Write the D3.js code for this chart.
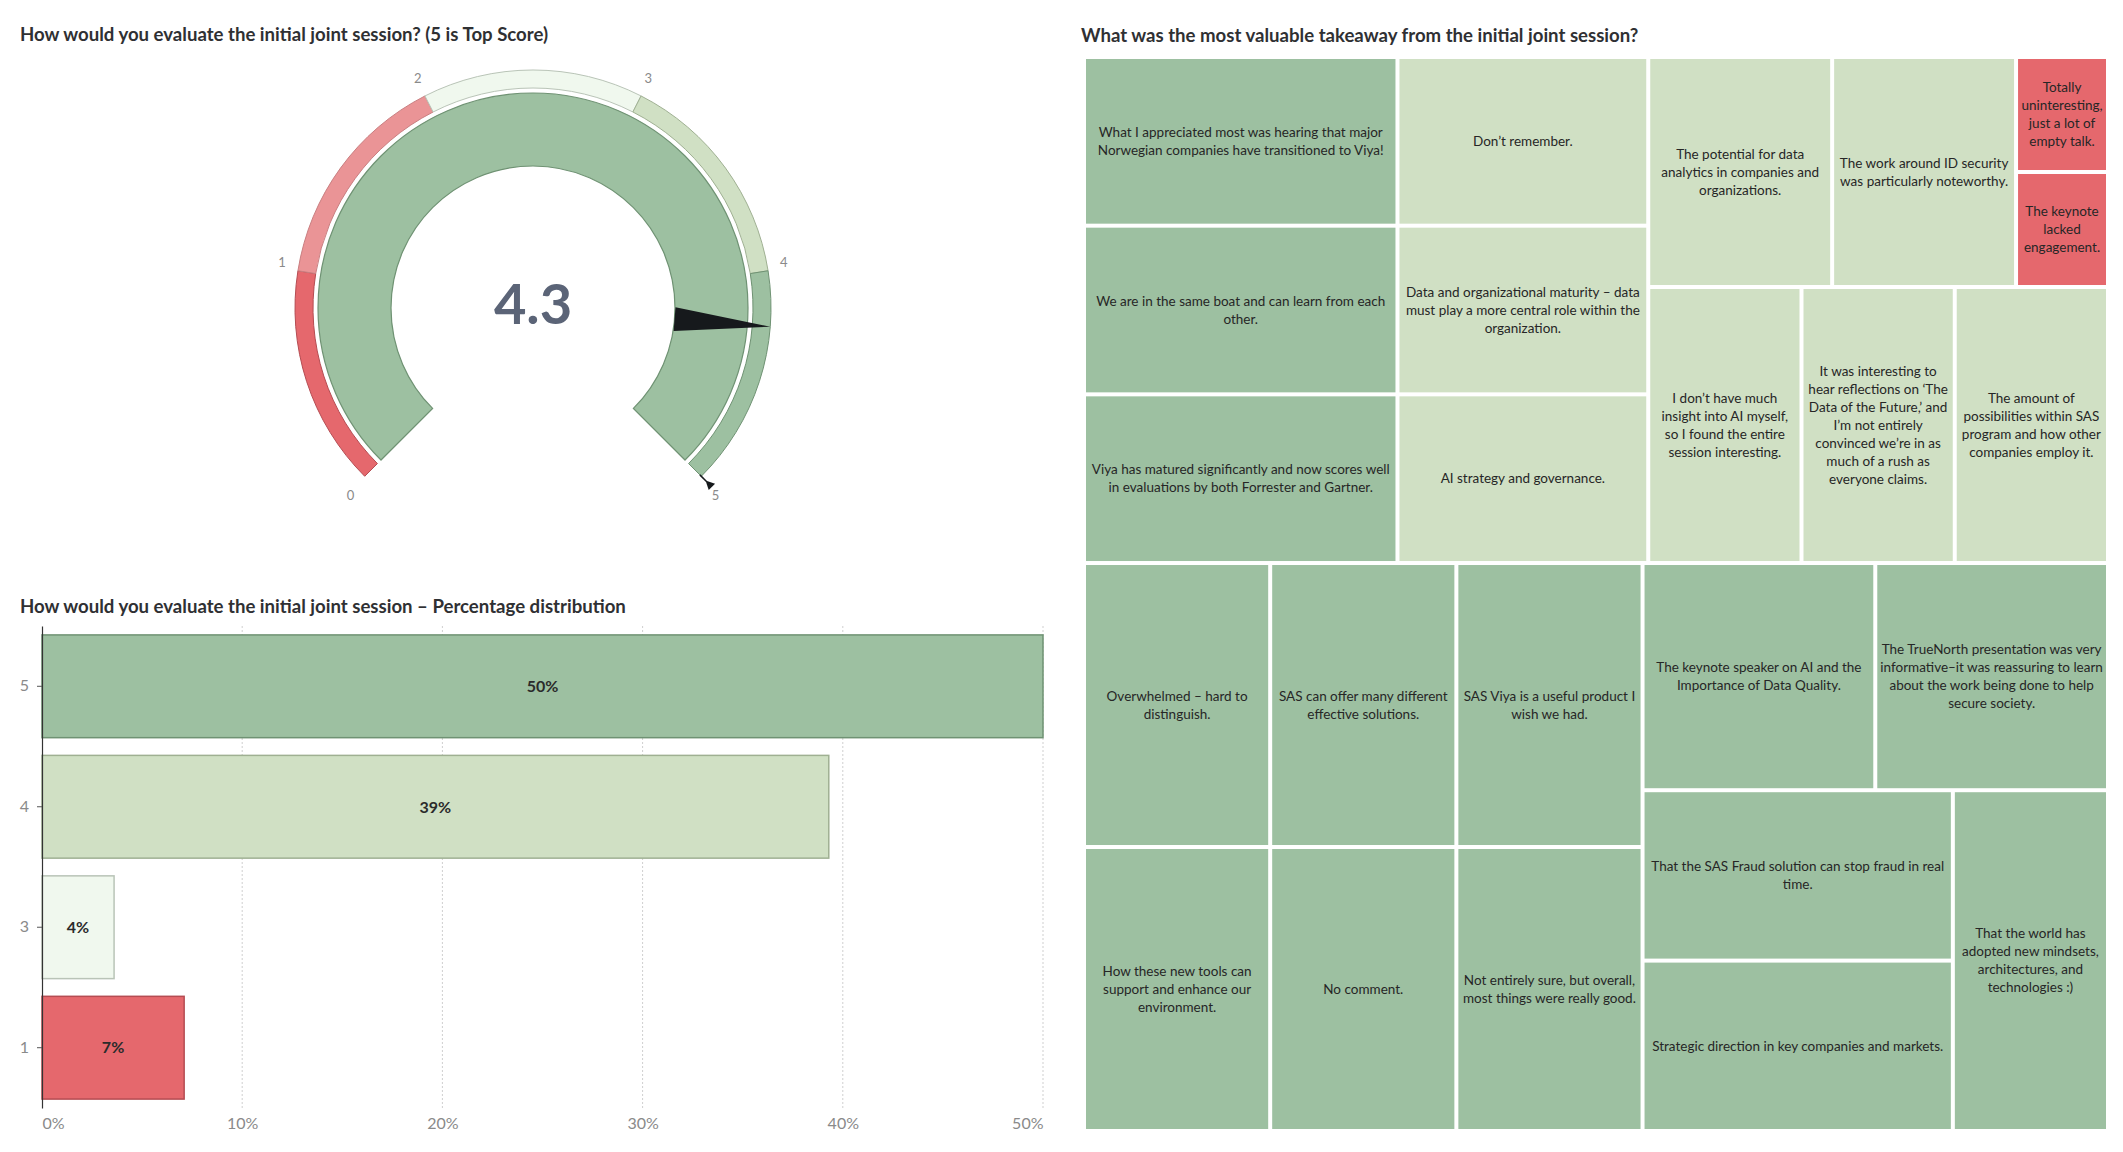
<!DOCTYPE html>
<html>
<head>
<meta charset="utf-8">
<script src="https://cdn.jsdelivr.net/npm/d3@7"></script>
<style>
  html, body { margin: 0; padding: 0; background: #ffffff; }
  svg { display: block; font-family: Lato, "Noto Sans", sans-serif; }
</style>
</head>
<body>
<svg id="chart" width="2123" height="1152"></svg>
<script>
// ---------------- DATA ----------------
const gaugeTitle = "How would you evaluate the initial joint session? (5 is Top Score)";
const gaugeValue = 4.25;
const gaugeBandLimits = [0, 1, 2, 3, 4, 5];
const gaugeTickLabels = ["0", "1", "2", "3", "4", "5"];
const gaugeTarget = 5;

const barTitle = "How would you evaluate the initial joint session – Percentage distribution";
const ratingCategories = ["5", "4", "3", "1"];
const ratingPercents = [50.0, 39.3, 3.6, 7.1];
const ratingLabels = ["50%", "39%", "4%", "7%"];
const xTickValues = [0, 10, 20, 30, 40, 50];
const xTickLabels = ["0%", "10%", "20%", "30%", "40%", "50%"];

const treemapTitle = "What was the most valuable takeaway from the initial joint session?";
const takeawayTexts = [
  "What I appreciated most was hearing that major Norwegian companies have transitioned to Viya!",
  "We are in the same boat and can learn from each other.",
  "Viya has matured significantly and now scores well in evaluations by both Forrester and Gartner.",
  "Don’t remember.",
  "Data and organizational maturity – data must play a more central role within the organization.",
  "AI strategy and governance.",
  "The potential for data analytics in companies and organizations.",
  "The work around ID security was particularly noteworthy.",
  "Totally uninteresting, just a lot of empty talk.",
  "The keynote lacked engagement.",
  "I don’t have much insight into AI myself, so I found the entire session interesting.",
  "It was interesting to hear reflections on ‘The Data of the Future,’ and I’m not entirely convinced we’re in as much of a rush as everyone claims.",
  "The amount of possibilities within SAS program and how other companies employ it.",
  "Overwhelmed – hard to distinguish.",
  "SAS can offer many different effective solutions.",
  "SAS Viya is a useful product I wish we had.",
  "How these new tools can support and enhance our environment.",
  "No comment.",
  "Not entirely sure, but overall, most things were really good.",
  "The keynote speaker on AI and the Importance of Data Quality.",
  "The TrueNorth presentation was very informative–it was reassuring to learn about the work being done to help secure society.",
  "That the SAS Fraud solution can stop fraud in real time.",
  "Strategic direction in key companies and markets.",
  "That the world has adopted new mindsets, architectures, and technologies :)"
];
const takeawayScores = [5, 5, 5, 4, 4, 4, 4, 4, 1, 1, 4, 4, 4, 5, 5, 5, 5, 5, 5, 5, 5, 5, 5, 5];
const takeawayGroups = [
  "top/A", "top/A", "top/A",
  "top/B", "top/B", "top/B",
  "top/C/1", "top/C/1", "top/C/1/r", "top/C/1/r",
  "top/C/2", "top/C/2", "top/C/2",
  "bottom/D/1", "bottom/D/1", "bottom/D/1",
  "bottom/D/2", "bottom/D/2", "bottom/D/2",
  "bottom/E/1", "bottom/E/1",
  "bottom/E/2/f", "bottom/E/2/f",
  "bottom/E/2"
];

// ---------------- STYLES ----------------
const scoreFill = { "5": "#9dc0a1", "4": "#d0e0c4", "3": "#f0f8ee", "2": "#ea9496", "1": "#e5686d" };
const scoreStroke = { "5": "#6f9273", "4": "#9fb092", "3": "#b9c4b7", "2": "#c97f81", "1": "#b54c52" };
const bandScore = ["1", "2", "3", "4", "5"];
const titleColor = "#2f3033";
const tickColor = "#8a8a8a";
const titleSize = 18.6;

const svg = d3.select("#chart");

// ---------------- GAUGE ----------------
(function () {
  svg.append("text").attr("x", 20).attr("y", 41)
    .attr("font-size", titleSize).attr("font-weight", 700).attr("fill", titleColor)
    .text(gaugeTitle);

  const cx = 533, cy = 308;
  const deg = d3.scaleLinear().domain([0, 5]).range([-135, 135]);
  const rad = v => deg(v) * Math.PI / 180;
  const g = svg.append("g").attr("transform", `translate(${cx},${cy})`);

  const bandArc = d3.arc().innerRadius(220).outerRadius(238);
  const bands = d3.range(gaugeBandLimits.length - 1).map(i => ({ a: gaugeBandLimits[i], b: gaugeBandLimits[i + 1], s: bandScore[i] }));
  g.selectAll("path.band").data(bands).join("path").attr("class", "band")
    .attr("d", d => bandArc({ startAngle: rad(d.a), endAngle: rad(d.b) }))
    .attr("fill", d => scoreFill[d.s]).attr("stroke", d => scoreStroke[d.s]).attr("stroke-width", 1);

  const mainArc = d3.arc().innerRadius(142).outerRadius(215);
  g.append("path")
    .attr("d", mainArc({ startAngle: rad(gaugeBandLimits[0]), endAngle: rad(gaugeBandLimits[gaugeBandLimits.length - 1]) }))
    .attr("fill", scoreFill["5"]).attr("stroke", scoreStroke["5"]).attr("stroke-width", 1.2);

  // tick labels
  g.selectAll("text.tick").data(gaugeBandLimits).join("text").attr("class", "tick")
    .attr("x", d => (Math.cos(rad(d)) < 0 ? 258 : 254) * Math.sin(rad(d)))
    .attr("y", d => -257 * Math.cos(rad(d)) - 5 * Math.pow(Math.sin(rad(d)), 2) + (Math.cos(rad(d)) < 0 ? 8 : 0))
    .attr("dy", "0.35em").attr("text-anchor", "middle")
    .attr("font-size", 13).attr("fill", tickColor)
    .text((d, i) => gaugeTickLabels[i]);

  // needle
  g.append("g").attr("transform", `rotate(${deg(gaugeValue)})`)
    .append("path").attr("d", "M-12,-142 L12,-142 L0,-238 Z").attr("fill", "#16191c");

  // target marker
  const tg = g.append("g").attr("transform", `rotate(${deg(gaugeTarget)})`);
  tg.append("line").attr("x1", 0).attr("x2", 0).attr("y1", -236).attr("y2", -245)
    .attr("stroke", "#16191c").attr("stroke-width", 1.5);
  tg.append("path").attr("d", "M0,-244 L-4.5,-253 L4.5,-253 Z").attr("fill", "#16191c");

  g.append("text").attr("x", 0).attr("y", -4).attr("dy", "0.36em")
    .attr("text-anchor", "middle").attr("font-size", 56).attr("font-weight", 700)
    .attr("fill", "#5b6477").text(d3.format(".1f")(gaugeValue));
})();

// ---------------- BAR CHART ----------------
(function () {
  svg.append("text").attr("x", 20).attr("y", 613)
    .attr("font-size", titleSize).attr("font-weight", 700).attr("fill", titleColor)
    .text(barTitle);

  const x = d3.scaleLinear().domain([0, 50]).range([42, 1043]);
  const y = d3.scaleBand().domain(ratingCategories).range([626, 1108]).paddingInner(0.147).paddingOuter(0.074);

  // grid
  svg.append("g").selectAll("line").data(xTickValues.slice(1)).join("line")
    .attr("x1", d => x(d)).attr("x2", d => x(d)).attr("y1", 626).attr("y2", 1108)
    .attr("stroke", "#cfcfcf").attr("stroke-width", 1).attr("stroke-dasharray", "2,2");

  const bars = ratingCategories.map((c, i) => ({ c, v: ratingPercents[i], l: ratingLabels[i] }));
  svg.append("g").selectAll("rect").data(bars).join("rect")
    .attr("x", x(0)).attr("y", d => y(d.c))
    .attr("width", d => x(d.v) - x(0)).attr("height", y.bandwidth())
    .attr("fill", d => scoreFill[d.c]).attr("stroke", d => scoreStroke[d.c]).attr("stroke-width", 1.5);

  svg.append("g").selectAll("text").data(bars).join("text")
    .attr("x", d => (x(0) + x(d.v)) / 2).attr("y", d => y(d.c) + y.bandwidth() / 2)
    .attr("dy", "0.36em").attr("text-anchor", "middle")
    .attr("font-size", 16).attr("font-weight", 700).attr("fill", "#2b2b2b")
    .text(d => d.l);

  // y axis
  const yAxis = svg.append("g").attr("transform", `translate(${x(0)},0)`)
    .call(d3.axisLeft(y).tickSize(5).tickPadding(8).tickSizeOuter(0));
  yAxis.select(".domain").attr("stroke", "#333").attr("stroke-width", 1.2);
  yAxis.selectAll(".tick line").attr("stroke", "#555");
  yAxis.selectAll(".tick text").attr("fill", tickColor).attr("font-size", 16).attr("font-family", "Lato, sans-serif");

  // x axis labels
  const xAxis = svg.append("g").attr("transform", "translate(0,1108)")
    .call(d3.axisBottom(x).tickValues(xTickValues).tickFormat((d, i) => xTickLabels[i]).tickSize(0).tickPadding(10));
  xAxis.select(".domain").remove();
  xAxis.selectAll(".tick text").attr("fill", tickColor).attr("font-size", 16).attr("font-family", "Lato, sans-serif")
    .attr("text-anchor", (d, i) => i === 0 ? "start" : (i === xTickValues.length - 1 ? "end" : "middle"));
})();

// ---------------- TREEMAP ----------------
(function () {
  svg.append("text").attr("x", 1081).attr("y", 42)
    .attr("font-size", titleSize).attr("font-weight", 700).attr("fill", titleColor)
    .text(treemapTitle);

  const rootData = { name: "root", children: [] };
  takeawayTexts.forEach((t, i) => {
    let node = rootData;
    takeawayGroups[i].split("/").forEach(k => {
      let c = node.children.find(n => n.name === k && n.children);
      if (!c) { c = { name: k, children: [] }; node.children.push(c); }
      node = c;
    });
    node.children.push({ name: t, score: takeawayScores[i] });
  });

  const root = d3.hierarchy(rootData).sum(d => d.children ? 0 : d.score);
  const tile = (node, x0, y0, x1, y1) =>
    (node.depth % 2 === 0 ? d3.treemapSlice : d3.treemapDice)(node, x0, y0, x1, y1);
  d3.treemap().tile(tile).size([1020, 1070]).paddingInner(4).round(false)(root);

  const g = svg.append("g").attr("transform", "translate(1086,59)");
  const leaves = g.selectAll("g.leaf").data(root.leaves()).join("g").attr("class", "leaf");
  leaves.append("rect")
    .attr("x", d => d.x0).attr("y", d => d.y0)
    .attr("width", d => d.x1 - d.x0).attr("height", d => d.y1 - d.y0)
    .attr("fill", d => scoreFill[String(d.data.score)]);

  const lineH = 18;
  leaves.each(function (d) {
    const sel = d3.select(this);
    const maxW = d.x1 - d.x0 - 6;
    const cxm = (d.x0 + d.x1) / 2, cym = (d.y0 + d.y1) / 2;
    const text = sel.append("text").attr("text-anchor", "middle")
      .attr("font-size", 13.5).attr("fill", "#262626");
    const words = d.data.name.split(/\s+/);
    const lines = [];
    let cur = [];
    const probe = text.append("tspan");
    words.forEach(w => {
      const trial = cur.concat([w]).join(" ");
      probe.text(trial);
      if (probe.node().getComputedTextLength() > maxW && cur.length) {
        lines.push(cur.join(" "));
        cur = [w];
      } else {
        cur.push(w);
      }
    });
    if (cur.length) lines.push(cur.join(" "));
    probe.remove();
    const startY = cym - (lines.length - 1) * lineH / 2;
    lines.forEach((l, i) => {
      text.append("tspan").attr("x", cxm).attr("y", startY + i * lineH).attr("dy", "0.35em").text(l);
    });
  });
})();
</script>
</body>
</html>
